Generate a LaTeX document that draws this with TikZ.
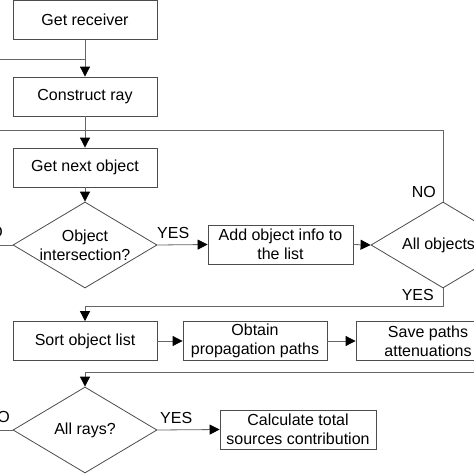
\documentclass[tikz,border=0pt]{standalone}
\usepackage{fontspec}
\setmainfont{Liberation Sans}
\usetikzlibrary{arrows.meta,shapes.geometric}
\tikzset{
  box/.style={draw=black!70, line width=0.8pt, rectangle, minimum width=144pt, minimum height=39pt, inner sep=1pt, align=center, font=\fontsize{16}{19}\selectfont},
  dia/.style={draw=black!70, line width=0.8pt, diamond, minimum width=144pt, minimum height=86pt, inner sep=0pt, aspect=1.67},
  dtext/.style={align=center, font=\fontsize{16}{19}\selectfont},
  lbl/.style={font=\fontsize{16}{19}\selectfont, inner sep=0pt},
  conn/.style={draw=black!60, line width=0.8pt},
  arr/.style={conn, -{Triangle[length=10pt,width=10pt,color=black]}}
}
\begin{document}
\begin{tikzpicture}[x=1pt,y=-1pt]
\useasboundingbox (0,0) rectangle (474,474);
\clip (0,0) rectangle (474,474);
\fill[white] (0,0) rectangle (474,474);
% boxes
\node[box] (recv) at (85,20) {Get receiver};
\node[box] (ray) at (85,96.5) {Construct ray};
\node[box] (next) at (85,167.5) {Get next object};
\node[dia] (d1) at (85,245) {};
\node[dtext] (d1t) at (85,245) {Object\\intersection?};
\node[box, minimum width=145pt] (add) at (280.5,244.5) {Add object info to\\the list};
\node[dia] (d2) at (443,245) {};
\node[dtext] (d2t) at (443,245) {All objects?};
\node[box] (sort) at (85,341) {Sort object list};
\node[box] (obt) at (255,341) {Obtain\\propagation paths};
\node[box] (save) at (428,341) {Save paths\\attenuations};
\node[dia] (d3) at (85,430) {};
\node[dtext] (d3t) at (85,430) {All rays?};
\node[box, minimum width=156pt] (calc) at (298,429.5) {Calculate total\\sources contribution};
% coordinates
\coordinate (l1) at (0,59);
\coordinate (j1) at (85,59);
\coordinate (l2) at (0,130);
\coordinate (l3) at (0,245);
\coordinate (c2) at (85,306);
\coordinate (r3) at (480,372);
\coordinate (l4) at (0,430);
% connectors
\draw[arr] (recv) -- (ray);
\draw[conn] (l1) -- (j1);
\draw[arr] (ray) -- (next);
\draw[conn] (l2) -| (d2.north);
\draw[arr] (next) -- (d1.north);
\draw[conn] (d1.west) -- (l3);
\draw[arr] (d1.east) -- (add.west);
\draw[arr] (add.east) -- (d2.west);
\draw[arr] (d2.south) |- (c2) -- (sort.north);
\draw[arr] (sort) -- (obt);
\draw[arr] (obt) -- (save);
\draw[arr] (r3) -| (d3.north);
\draw[conn] (d3.west) -- (l4);
\draw[arr] (d3.east) -- (calc.west);
% labels
\node[lbl, anchor=base east] (no1) at (3,237) {NO};
\node[lbl, anchor=base west] (yes1) at (157,238) {YES};
\node[lbl, anchor=base east] (no2) at (436,197) {NO};
\node[lbl, anchor=base east] (yes2) at (434,300) {YES};
\node[lbl, anchor=base east] (no3) at (10,422) {NO};
\node[lbl, anchor=base west] (yes3) at (160,423) {YES};
\end{tikzpicture}
\end{document}
